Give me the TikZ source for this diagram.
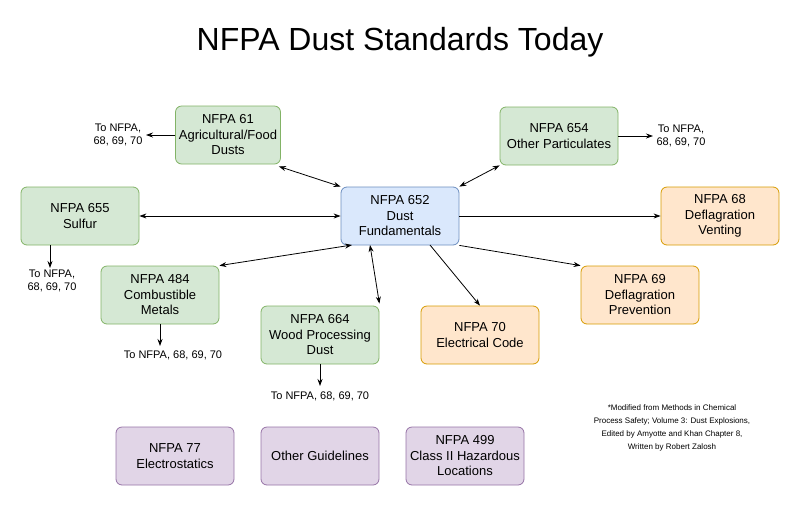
\documentclass[tikz,border=0pt]{standalone}
\usepackage{fontspec}
\setmainfont{Liberation Sans}
\usetikzlibrary{arrows.meta}
\definecolor{gf}{HTML}{D5E8D4}\definecolor{gs}{HTML}{82B366}
\definecolor{bf}{HTML}{DAE8FC}\definecolor{bs}{HTML}{6C8EBF}
\definecolor{of}{HTML}{FFE6CC}\definecolor{os}{HTML}{D79B00}
\definecolor{pf}{HTML}{E1D5E7}\definecolor{ps}{HTML}{9673A6}
\begin{document}
\begin{tikzpicture}[x=1pt,y=-1pt,
 box/.style={draw,rounded corners=6pt,minimum width=118pt,minimum height=58pt,align=center,font=\fontsize{13}{15.5}\selectfont,line width=0.8pt},
 gbox/.style={box,fill=gf,draw=gs},
 bbox/.style={box,fill=bf,draw=bs},
 obox/.style={box,fill=of,draw=os},
 pbox/.style={box,fill=pf,draw=ps},
 lab/.style={align=center,font=\fontsize{11}{13}\selectfont},
 conn/.style={-{Stealth[length=7pt,width=5pt]},line width=0.8pt},
 bconn/.style={{Stealth[length=7pt,width=5pt]}-{Stealth[length=7pt,width=5pt]},line width=0.8pt}]
\path[use as bounding box] (0,0) rectangle (801,507);
\node[font=\fontsize{32}{36}\selectfont] (title) at (400,42) {NFPA Dust Standards Today};
\node[gbox,minimum width=95pt] (n61) at (228,135) {NFPA 61\\Agricultural/Food\\Dusts};
\node[gbox] (n654) at (559,136) {NFPA 654\\Other Particulates};
\node[bbox] (n652) at (400,216) {NFPA 652\\Dust\\Fundamentals};
\node[gbox] (n655) at (80,216) {NFPA 655\\Sulfur};
\node[obox] (n68) at (720,216) {NFPA 68\\Deflagration\\Venting};
\node[gbox] (n484) at (160,295) {NFPA 484\\Combustible\\Metals};
\node[obox] (n69) at (640,295) {NFPA 69\\Deflagration\\Prevention};
\node[gbox] (n664) at (320,335) {NFPA 664\\Wood Processing\\Dust};
\node[obox] (n70) at (480,335) {NFPA 70\\Electrical Code};
\node[pbox] (n77) at (175,456) {NFPA 77\\Electrostatics};
\node[pbox] (og) at (320,456) {Other Guidelines};
\node[pbox] (n499) at (465,456) {NFPA 499\\Class II Hazardous\\Locations};
\node[lab] (t61) at (118,135) {To NFPA,\\68, 69, 70};
\node[lab] (t654) at (681,136) {To NFPA,\\68, 69, 70};
\node[lab] (t655) at (52,281) {To NFPA,\\68, 69, 70};
\node[lab] (t484) at (173,355) {To NFPA, 68, 69, 70};
\node[lab] (t664) at (320,396) {To NFPA, 68, 69, 70};
\node[align=center,font=\fontsize{8}{13}\selectfont] (fn) at (672,428) {*Modified from Methods in Chemical\\Process Safety; Volume 3: Dust Explosions,\\Edited by Amyotte and Khan Chapter 8,\\Written by Robert Zalosh};
\draw[conn] (n61.west) -- (t61.east);
\draw[conn] (n654.east) -- (t654.west);
\draw[conn] (n655.south -| 50,0) -- (50,268);
\draw[conn] (n484.south) -- (160,346);
\draw[conn] (n664.south) -- (320,386);
\draw[bconn] (n61.south east) ++(-2,2) coordinate (a1) -- (n652.north west);
\draw[bconn] (n654.south west) -- (n652.north east);
\draw[bconn] (n655.east) -- (n652.west);
\draw[conn] (n652.east) -- (n68.west);
\draw[bconn] (n484.north east) -- (352,245);
\draw[bconn] (n664.north east) ++(0,-2) coordinate (a2) -- (370,245);
\draw[conn] (430,245) -- (n70.north);
\draw[conn] (n652.south east) -- (n69.north west);
\end{tikzpicture}
\end{document}
